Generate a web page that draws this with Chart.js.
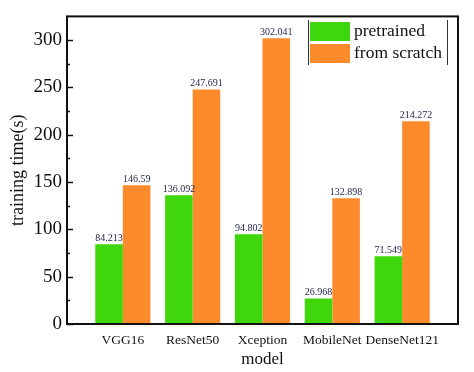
<!DOCTYPE html>
<html>
<head>
<meta charset="utf-8">
<script src="https://cdn.jsdelivr.net/npm/chart.js@4.4.0/dist/chart.umd.min.js"></script>
<style>
  html, body { margin: 0; padding: 0; background: #fff; }
  #wrap { width: 474px; height: 372px; }
</style>
</head>
<body>
<div id="wrap"><canvas id="barChart" width="474" height="372"></canvas></div>
<script>
// === Data ===
const models = ['VGG16', 'ResNet50', 'Xception', 'MobileNet', 'DenseNet121'];
const pretrained = [84.213, 136.092, 94.802, 26.968, 71.549];
const fromScratch = [146.59, 247.691, 302.041, 132.898, 214.272];
const pretrainedLabels = ['84.213', '136.092', '94.802', '26.968', '71.549'];
const scratchLabels = ['146.59', '247.691', '302.041', '132.898', '214.272'];
const yTicks = [0, 50, 100, 150, 200, 250, 300];
const yMinorTicks = [25, 75, 125, 175, 225, 275];

const GREEN = '#3fd60b';
const ORANGE = '#fd8b2c';
const SERIF = '"Liberation Serif", "Times New Roman", serif';

// frame, inward ticks, value labels and the boxed legend
const decorations = {
    id: 'decorations',
    afterDatasetsDraw(chart) {
        const c = chart.ctx;
        const a = chart.chartArea;
        const y = chart.scales.y;

        c.save();
        c.strokeStyle = '#111';
        c.lineWidth = 2;
        c.strokeRect(a.left, a.top, a.right - a.left, a.bottom - a.top);

        // ticks pointing into the plot
        c.lineWidth = 1.5;
        yTicks.forEach(v => {
            const py = Math.round(y.getPixelForValue(v)) + 0.5;
            c.beginPath(); c.moveTo(a.left, py); c.lineTo(a.left + 6, py); c.stroke();
        });
        yMinorTicks.forEach(v => {
            const py = Math.round(y.getPixelForValue(v)) + 0.5;
            c.beginPath(); c.moveTo(a.left, py); c.lineTo(a.left + 3, py); c.stroke();
        });

        // value labels above bars
        c.fillStyle = '#1f2147';
        c.font = '10px ' + SERIF;
        c.textAlign = 'center';
        c.textBaseline = 'bottom';
        const texts = [pretrainedLabels, scratchLabels];
        chart.data.datasets.forEach((ds, i) => {
            chart.getDatasetMeta(i).data.forEach((bar, j) => {
                c.fillText(texts[i][j], bar.x, bar.y - 1);
            });
        });

        // legend
        const lx = 308, ly = 20, boxW = 40, boxH = 19, gap = 3;
        c.strokeStyle = '#333';
        c.lineWidth = 1;
        c.beginPath(); c.moveTo(lx + 0.5, ly); c.lineTo(lx + 0.5, ly + 2 * boxH + gap + 4); c.stroke();
        c.beginPath(); c.moveTo(447.5, ly); c.lineTo(447.5, ly + 2 * boxH + gap + 4); c.stroke();
        c.font = '17.5px ' + SERIF;
        c.textAlign = 'left';
        c.textBaseline = 'middle';
        chart.data.datasets.forEach((ds, i) => {
            const by = ly + 2 + i * (boxH + gap);
            c.fillStyle = ds.backgroundColor;
            c.fillRect(lx + 2, by, boxW, boxH);
            c.fillStyle = '#111';
            c.fillText(ds.label, lx + boxW + 6, by + boxH / 2);
        });
        c.restore();
    }
};

const ctx = document.getElementById('barChart').getContext('2d');

new Chart(ctx, {
    type: 'bar',
    data: {
        datasets: [
            {
                label: 'pretrained',
                data: pretrained.map((v, i) => ({ x: i + 1, y: v })),
                backgroundColor: GREEN,
                borderWidth: 0
            },
            {
                label: 'from scratch',
                data: fromScratch.map((v, i) => ({ x: i + 1, y: v })),
                backgroundColor: ORANGE,
                borderWidth: 0
            }
        ]
    },
    options: {
        responsive: false,
        animation: false,
        parsing: false,
        categoryPercentage: 0.79,
        barPercentage: 1.0,
        layout: { padding: { top: 9, right: 16, left: 0, bottom: 0 } },
        plugins: {
            legend: { display: false },
            tooltip: { enabled: false }
        },
        scales: {
            x: {
                type: 'linear',
                min: 0.2,
                max: 5.8,
                offset: false,
                grid: { display: false, drawTicks: false, offset: false },
                border: { display: false },
                afterBuildTicks: s => { s.ticks = models.map((m, i) => ({ value: i + 1 })); },
                afterFit: s => { s.height = 48; },
                ticks: {
                    color: '#111',
                    padding: 8,
                    maxRotation: 0,
                    autoSkip: false,
                    font: { family: SERIF, size: 13.5 },
                    callback: v => models[v - 1]
                },
                title: {
                    display: true,
                    text: 'model',
                    color: '#111',
                    padding: { top: 0, bottom: 2 },
                    font: { family: SERIF, size: 17 }
                }
            },
            y: {
                min: 0,
                max: 325,
                grid: { display: false, drawTicks: false },
                border: { display: false },
                afterBuildTicks: s => { s.ticks = yTicks.map(v => ({ value: v })); },
                afterFit: s => { s.width = 67; },
                ticks: {
                    color: '#111',
                    padding: 5,
                    font: { family: SERIF, size: 19 }
                },
                title: {
                    display: true,
                    text: 'training time(s)',
                    color: '#111',
                    padding: { top: 7, bottom: 0 },
                    font: { family: SERIF, size: 18 }
                }
            }
        }
    },
    plugins: [decorations]
});
</script>
</body>
</html>
